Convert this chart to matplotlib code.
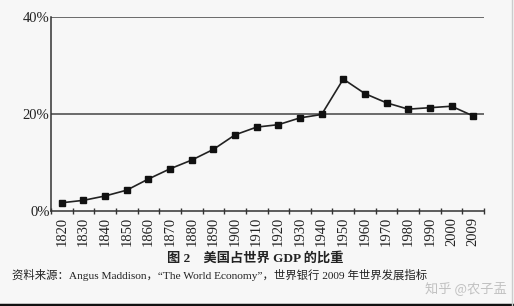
import matplotlib.pyplot as plt

years = ["1820", "1830", "1840", "1850", "1860", "1870", "1880", "1890", "1900", "1910",
         "1920", "1930", "1940", "1950", "1960", "1970", "1980", "1990", "2000", "2009"]
us_share = [1.7, 2.2, 3.1, 4.3, 6.6, 8.7, 10.5, 12.7, 15.7, 17.3,
            17.8, 19.2, 19.9, 27.2, 24.2, 22.3, 21.0, 21.3, 21.6, 19.6]
y_ticks = [0, 20, 40]
y_labels = ["0%", "20%", "40%"]

caption = "图 2　美国占世界 GDP 的比重"
source = "资料来源：Angus Maddison，“The World Economy”，世界银行 2009 年世界发展指标"
watermark = "知乎 @农子盂"

serif = ["Liberation Serif", "Noto Sans CJK SC"]
bg = "#f7f7f7"

fig = plt.figure(figsize=(5.14, 3.06), dpi=100, facecolor=bg)
ax = fig.add_axes([51 / 514, 1 - 211 / 306, 433 / 514, 194 / 306])
ax.set_facecolor(bg)

x = list(range(len(years)))
ax.plot(x, us_share, color="#222222", lw=1.2, marker="s", ms=5,
        mfc="#111111", mec="#111111", zorder=3)

for v in y_ticks[1:]:
    ax.axhline(v, color="#444444", lw=1.1, zorder=1)

ax.set_xlim(-0.5, len(years) - 0.5)
ax.set_ylim(0, 40)
for s in ["top", "right"]:
    ax.spines[s].set_visible(False)
for s in ["left", "bottom"]:
    ax.spines[s].set_color("#333333")
    ax.spines[s].set_linewidth(1.1)

ax.set_yticks(y_ticks)
ax.set_yticklabels(y_labels, family=serif, fontsize=10.5, color="#222222")
ax.tick_params(axis="y", length=0, pad=1)

ax.set_xticks(x)
ax.set_xticklabels(years, rotation=90, family=serif, fontsize=10.5, color="#222222")
ax.tick_params(axis="x", which="major", length=0, pad=4)
ax.set_xticks([i - 0.5 for i in range(len(years) + 1)], minor=True)
ax.tick_params(axis="x", which="minor", direction="inout", length=5, width=1, color="#333333")

fig.text(255 / 514, 1 - 258 / 306, caption, family=serif, fontsize=9.5, weight="bold",
         ha="center", va="center", color="#222222")
fig.text(12 / 514, 1 - 275 / 306, source, family=serif, fontsize=8.2, ha="left", va="center",
         color="#222222")
fig.text(466 / 514, 1 - 288 / 306, watermark, family=["Noto Sans CJK SC", "DejaVu Sans"],
         fontsize=9.5, ha="center", va="center", color="#bbbbbb", alpha=0.9)

fig.add_artist(plt.Line2D([0, 1], [1 / 306, 1 / 306], color="#111111", lw=2.5))
fig.add_artist(plt.Line2D([512 / 514, 512 / 514], [0, 1], color="#cccccc", lw=1))

fig.savefig("out.png", dpi=100, facecolor=bg)
